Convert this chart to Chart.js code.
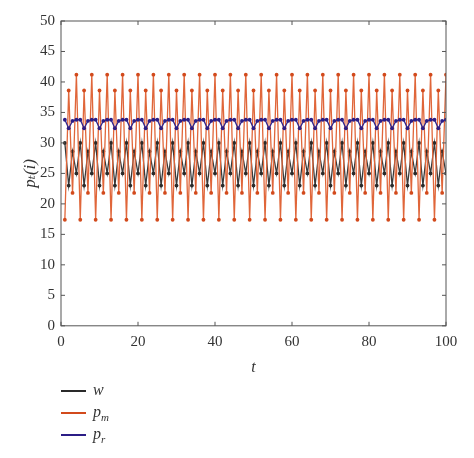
<!DOCTYPE html>
<html>
<head>
<meta charset="utf-8">
<script src="https://cdn.jsdelivr.net/npm/chart.js@4.4.1/dist/chart.umd.min.js"></script>
<style>
    html, body { margin: 0; padding: 0; background: #fff; }
    #wrap { position: relative; width: 474px; height: 458px; }
    #chart { position: absolute; left: 0; top: 0; }
    #legend { position: absolute; left: 61px; top: 380px; font-family: "Liberation Serif", "DejaVu Serif", serif; font-style: italic; font-size: 16px; color: #333; }
    .item { position: relative; height: 22px; }
    .swatch { position: absolute; left: 0; top: 10px; width: 25px; height: 2px; }
    .label { position: absolute; left: 32px; top: 0; line-height: 20px; }
    .label sub { font-size: 11px; }
</style>
</head>
<body>
<div id="wrap">
    <canvas id="chart" width="474" height="381"></canvas>
    <div id="legend"></div>
</div>
<script>
// time steps
const t = [
    1, 2, 3, 4, 5, 6, 7, 8, 9, 10, 11, 12, 13, 14, 15, 16, 17, 18, 19, 20,
    21, 22, 23, 24, 25, 26, 27, 28, 29, 30, 31, 32, 33, 34, 35, 36, 37, 38, 39, 40,
    41, 42, 43, 44, 45, 46, 47, 48, 49, 50, 51, 52, 53, 54, 55, 56, 57, 58, 59, 60,
    61, 62, 63, 64, 65, 66, 67, 68, 69, 70, 71, 72, 73, 74, 75, 76, 77, 78, 79, 80,
    81, 82, 83, 84, 85, 86, 87, 88, 89, 90, 91, 92, 93, 94, 95, 96, 97, 98, 99, 100
];

// w series (black)
const w = [
    30.0, 23.0, 28.6, 25.0, 30.0, 23.0, 28.6, 25.0, 30.0, 23.0, 28.6, 25.0, 30.0, 23.0, 28.6, 25.0, 30.0, 23.0, 28.6, 25.0,
    30.0, 23.0, 28.6, 25.0, 30.0, 23.0, 28.6, 25.0, 30.0, 23.0, 28.6, 25.0, 30.0, 23.0, 28.6, 25.0, 30.0, 23.0, 28.6, 25.0,
    30.0, 23.0, 28.6, 25.0, 30.0, 23.0, 28.6, 25.0, 30.0, 23.0, 28.6, 25.0, 30.0, 23.0, 28.6, 25.0, 30.0, 23.0, 28.6, 25.0,
    30.0, 23.0, 28.6, 25.0, 30.0, 23.0, 28.6, 25.0, 30.0, 23.0, 28.6, 25.0, 30.0, 23.0, 28.6, 25.0, 30.0, 23.0, 28.6, 25.0,
    30.0, 23.0, 28.6, 25.0, 30.0, 23.0, 28.6, 25.0, 30.0, 23.0, 28.6, 25.0, 30.0, 23.0, 28.6, 25.0, 30.0, 23.0, 28.6, 25.0
];

// p_m series (orange)
const pm = [
    17.4, 38.6, 21.8, 41.2, 17.4, 38.6, 21.8, 41.2, 17.4, 38.6, 21.8, 41.2, 17.4, 38.6, 21.8, 41.2, 17.4, 38.6, 21.8, 41.2,
    17.4, 38.6, 21.8, 41.2, 17.4, 38.6, 21.8, 41.2, 17.4, 38.6, 21.8, 41.2, 17.4, 38.6, 21.8, 41.2, 17.4, 38.6, 21.8, 41.2,
    17.4, 38.6, 21.8, 41.2, 17.4, 38.6, 21.8, 41.2, 17.4, 38.6, 21.8, 41.2, 17.4, 38.6, 21.8, 41.2, 17.4, 38.6, 21.8, 41.2,
    17.4, 38.6, 21.8, 41.2, 17.4, 38.6, 21.8, 41.2, 17.4, 38.6, 21.8, 41.2, 17.4, 38.6, 21.8, 41.2, 17.4, 38.6, 21.8, 41.2,
    17.4, 38.6, 21.8, 41.2, 17.4, 38.6, 21.8, 41.2, 17.4, 38.6, 21.8, 41.2, 17.4, 38.6, 21.8, 41.2, 17.4, 38.6, 21.8, 41.2
];

// p_r series (dark blue)
const pr = [
    33.8, 32.4, 33.6, 33.8, 33.8, 32.4, 33.6, 33.8, 33.8, 32.4, 33.6, 33.8, 33.8, 32.4, 33.6, 33.8, 33.8, 32.4, 33.6, 33.8,
    33.8, 32.4, 33.6, 33.8, 33.8, 32.4, 33.6, 33.8, 33.8, 32.4, 33.6, 33.8, 33.8, 32.4, 33.6, 33.8, 33.8, 32.4, 33.6, 33.8,
    33.8, 32.4, 33.6, 33.8, 33.8, 32.4, 33.6, 33.8, 33.8, 32.4, 33.6, 33.8, 33.8, 32.4, 33.6, 33.8, 33.8, 32.4, 33.6, 33.8,
    33.8, 32.4, 33.6, 33.8, 33.8, 32.4, 33.6, 33.8, 33.8, 32.4, 33.6, 33.8, 33.8, 32.4, 33.6, 33.8, 33.8, 32.4, 33.6, 33.8,
    33.8, 32.4, 33.6, 33.8, 33.8, 32.4, 33.6, 33.8, 33.8, 32.4, 33.6, 33.8, 33.8, 32.4, 33.6, 33.8, 33.8, 32.4, 33.6, 33.8
];

const xTicks = [0, 20, 40, 60, 80, 100];
const yTicks = [0, 5, 10, 15, 20, 25, 30, 35, 40, 45, 50];

const series = [
    { name: 'w', sub: '', values: w, color: '#2a2a2a', line: '#3a3a3a' },
    { name: 'p', sub: 'm', values: pm, color: '#d24a1c', line: '#e0663a' },
    { name: 'p', sub: 'r', values: pr, color: '#2b1d86', line: '#33278e' }
];

const serif = '"Liberation Serif", "DejaVu Serif", serif';

// box around plot area + inward tick marks
const frame = {
    id: 'frame',
    afterDraw(chart) {
        const { ctx, chartArea: a, scales } = chart;
        ctx.save();
        ctx.strokeStyle = '#555';
        ctx.lineWidth = 1;
        ctx.strokeRect(a.left, a.top, a.right - a.left, a.bottom - a.top);
        ctx.beginPath();
        scales.x.ticks.forEach((tk, i) => {
            const px = scales.x.getPixelForTick(i);
            ctx.moveTo(px, a.bottom); ctx.lineTo(px, a.bottom - 4);
            ctx.moveTo(px, a.top); ctx.lineTo(px, a.top + 4);
        });
        scales.y.ticks.forEach((tk, i) => {
            const py = scales.y.getPixelForTick(i);
            ctx.moveTo(a.left, py); ctx.lineTo(a.left + 4, py);
            ctx.moveTo(a.right, py); ctx.lineTo(a.right - 4, py);
        });
        ctx.stroke();
        ctx.restore();
    }
};

new Chart(document.getElementById('chart'), {
    type: 'line',
    data: {
        datasets: series.map((s, i) => ({
            label: s.name + s.sub,
            data: s.values.map((v, k) => ({ x: t[k], y: v })),
            borderColor: s.line,
            backgroundColor: s.color,
            borderWidth: 1.3,
            pointRadius: 1.9,
            pointBorderWidth: 0,
            tension: 0,
            order: 3 - i
        }))
    },
    options: {
        responsive: false,
        animation: false,
        layout: { padding: { top: 21, right: 28, left: 20, bottom: 0 } },
        plugins: { legend: { display: false }, tooltip: { enabled: false } },
        scales: {
            x: {
                type: 'linear',
                min: 0, max: 100,
                afterBuildTicks: s => { s.ticks = xTicks.map(v => ({ value: v })); },
                grid: { display: false, drawTicks: false, tickLength: 0 },
                border: { display: false },
                ticks: { color: '#333', font: { family: serif, size: 15 }, padding: 7, maxRotation: 0 },
                title: { display: true, text: 't', color: '#333', font: { family: serif, size: 16, style: 'italic' }, padding: { top: 0 } }
            },
            y: {
                min: 0, max: 50,
                afterBuildTicks: s => { s.ticks = yTicks.map(v => ({ value: v })); },
                afterFit: s => { s.width = 41; },
                grid: { display: false, drawTicks: false, tickLength: 0 },
                border: { display: false },
                ticks: { color: '#333', font: { family: serif, size: 15 }, padding: 6 },
                title: { display: true, text: 'pₜ(i)', color: '#333', font: { family: serif, size: 17, style: 'italic' }, padding: 0 }
            }
        }
    },
    plugins: [frame]
});

// legend
const legend = document.getElementById('legend');
series.forEach(s => {
    const div = document.createElement('div');
    div.className = 'item';
    div.innerHTML = `<span class="swatch" style="background:${s.color}"></span>` +
        `<span class="label">${s.name}${s.sub ? '<sub>' + s.sub + '</sub>' : ''}</span>`;
    legend.appendChild(div);
});
</script>
</body>
</html>
